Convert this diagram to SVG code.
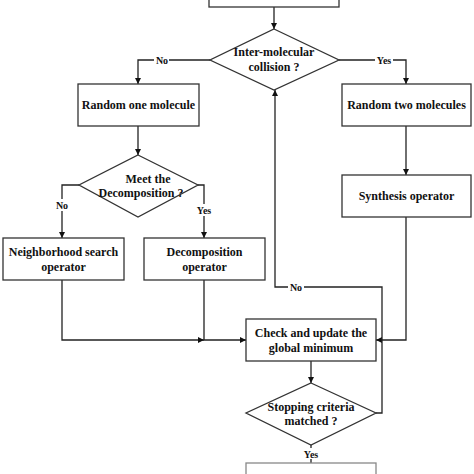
<svg xmlns="http://www.w3.org/2000/svg" width="474" height="474" viewBox="0 0 474 474">
<defs>
<marker id="ah" viewBox="0 0 10 10" refX="10" refY="5" markerWidth="6" markerHeight="6" markerUnits="userSpaceOnUse" orient="auto">
<path d="M0,0 L10,5 L0,10 Z" fill="#111"/>
</marker>
<style>
.s{fill:#fff;stroke:#333;stroke-width:1.3}
.t{font-family:"Liberation Serif","Times New Roman",serif;font-weight:bold;font-size:12px;fill:#111;text-anchor:middle}
.l{font-family:"Liberation Serif","Times New Roman",serif;font-weight:bold;font-size:10px;fill:#111;text-anchor:middle}
.c{fill:none;stroke:#222;stroke-width:1.3}
.lb{fill:#fff}
</style>
</defs>
<rect width="474" height="474" fill="#fff"/>
<g id="connectors">
<path class="c" d="M274,7 V29" marker-end="url(#ah)"/>
<path class="c" d="M210,60 H138 V84" marker-end="url(#ah)"/>
<path class="c" d="M339,60 H406 V84" marker-end="url(#ah)"/>
<path class="c" d="M138,126 V155" marker-end="url(#ah)"/>
<path class="c" d="M79,185 H62 V238" marker-end="url(#ah)"/>
<path class="c" d="M198,185 H204 V238" marker-end="url(#ah)"/>
<path class="c" d="M406,126 V175" marker-end="url(#ah)"/>
<path class="c" d="M62,280 V340 H204" marker-end="url(#ah)"/>
<path class="c" d="M204,280 V340 H246" marker-end="url(#ah)"/>
<path class="c" d="M406,217 V340 H376" marker-end="url(#ah)"/>
<path class="c" d="M311,361 V383" marker-end="url(#ah)"/>
<path class="c" d="M376,413 H382 V287 H275 V90" marker-end="url(#ah)"/>
<path class="c" d="M311,445 V463"/>
<rect class="lb" x="154" y="54" width="15" height="11"/>
<text class="l" x="162" y="63.5">No</text>
<rect class="lb" x="375" y="54" width="18" height="11"/>
<text class="l" x="384" y="63.5">Yes</text>
<rect class="lb" x="54" y="199" width="16" height="12"/>
<text class="l" x="62" y="208.5">No</text>
<rect class="lb" x="195" y="204" width="18" height="12"/>
<text class="l" x="204" y="213.5">Yes</text>
<rect class="lb" x="288" y="281" width="16" height="11"/>
<text class="l" x="296" y="290.5">No</text>
<rect class="lb" x="301" y="448" width="20" height="11"/>
<text class="l" x="311" y="457.5">Yes</text>
</g>
<g id="start">
<rect class="s" x="209" y="-20" width="130" height="27"/>
</g>
<g id="collision">
<polygon class="s" points="274,29 339,60 274,90 210,60"/>
<text class="t" x="274" y="56">Inter-molecular</text>
<text class="t" x="274" y="71">collision ?</text>
</g>
<g id="random-one">
<rect class="s" x="78" y="84" width="121" height="42"/>
<text class="t" x="138.5" y="109">Random one molecule</text>
</g>
<g id="random-two">
<rect class="s" x="342" y="84" width="129" height="42"/>
<text class="t" x="406.5" y="109">Random two molecules</text>
</g>
<g id="meet-decomposition">
<polygon class="s" points="138,155 198,185 138,217 79,185"/>
<text class="t" x="148" y="183">Meet the</text>
<text class="t" x="141" y="197">Decomposition ?</text>
</g>
<g id="neighborhood">
<rect class="s" x="3" y="238" width="121" height="42"/>
<text class="t" x="63.5" y="256">Neighborhood search</text>
<text class="t" x="63.5" y="271">operator</text>
</g>
<g id="decomposition">
<rect class="s" x="144" y="238" width="121" height="42"/>
<text class="t" x="204.5" y="256">Decomposition</text>
<text class="t" x="204.5" y="271">operator</text>
</g>
<g id="synthesis">
<rect class="s" x="342" y="175" width="129" height="42"/>
<text class="t" x="406.5" y="200">Synthesis operator</text>
</g>
<g id="check-update">
<rect class="s" x="246" y="319" width="130" height="42"/>
<text class="t" x="311" y="337">Check and update the</text>
<text class="t" x="311" y="352">global minimum</text>
</g>
<g id="stopping">
<polygon class="s" points="311,383 376,413 311,445 246,413"/>
<text class="t" x="311" y="411">Stopping criteria</text>
<text class="t" x="311" y="425">matched ?</text>
</g>
<g id="end">
<rect class="s" x="246" y="463" width="130" height="30" style="stroke:#888"/>
</g>
</svg>
